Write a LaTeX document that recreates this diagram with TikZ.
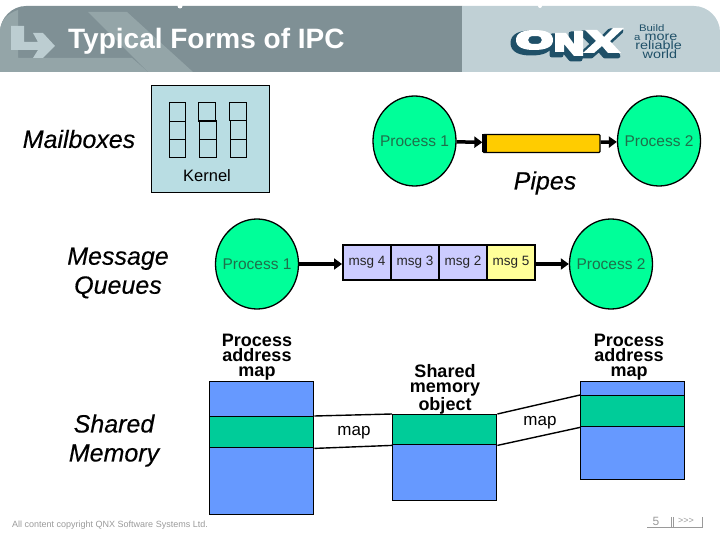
\documentclass[tikz,border=0pt]{standalone}
\usepackage{fontspec}
\setmainfont{Liberation Sans}
\newfontfamily\semifont[FakeBold=0.3]{Liberation Sans}
\definecolor{hdark}{HTML}{7F9095}
\definecolor{hlight}{HTML}{C0D0D5}
\definecolor{hband}{HTML}{94A5A8}
\definecolor{hicon}{HTML}{BCCDD1}
\definecolor{kern}{HTML}{B9DDE3}
\definecolor{proc}{HTML}{00FF99}
\definecolor{proctxt}{HTML}{1F6F4A}
\definecolor{pipefill}{HTML}{FFCC00}
\definecolor{msgfill}{HTML}{CCCCFF}
\definecolor{msgnew}{HTML}{FFFF99}
\definecolor{memblue}{HTML}{6699FF}
\definecolor{memgreen}{HTML}{00CC99}
\definecolor{logo}{HTML}{1F5068}
\definecolor{foot}{HTML}{9A9A9A}
\usetikzlibrary{arrows.meta,shapes.geometric}
\newcommand{\qnxshapes}{
 (516,40) .. controls (516,33) and (523,30) .. (534,30) .. controls (546,30) and (553,33) .. (553,40) .. controls (553,47) and (546,50) .. (534,50) .. controls (523,50) and (516,47) .. (516,40) -- cycle
 (528,40) .. controls (528,37) and (530,36) .. (535,36) .. controls (540,36) and (542,37) .. (542,40) .. controls (542,43) and (540,44) .. (535,44) .. controls (530,44) and (528,43) .. (528,40) -- cycle
 (555,33) -- (566,33) -- (574,44) -- (574,31) -- (583,31) -- (583,56) -- (574,56) -- (564,44) -- (564,52) -- (555,52) -- cycle
 (585,30) -- (597,30) -- (604,37) -- (613,28) -- (624,28) -- (610,41) -- (621,53) -- (608,53) -- (602,46) -- (594,53) -- (583,53) -- (596,41) -- cycle}
\tikzset{
 x=1pt,y=-1pt,
 procnode/.style={ellipse,draw=black,line width=1.3pt,fill=proc,minimum width=83pt,minimum height=90pt,inner sep=0pt,text=proctxt,font=\fontsize{15.5}{15.5}\selectfont},
 cell/.style={draw=black,line width=.9pt},
 msgcell/.style={draw=black,line width=2pt,anchor=north west,minimum width=48pt,minimum height=35pt,inner sep=0pt,font=\fontsize{13.5}{13.5}\selectfont,text=black!85},
 big/.style={align=center,font=\fontsize{25}{29}\semifont\itshape\selectfont,text=black},
 boldmap/.style={align=center,font=\fontsize{18}{15.3}\bfseries\selectfont,text=black},
 memrect/.style={draw=black,line width=1.4pt,anchor=north west,inner sep=0pt},
 flow/.style={line width=3.5pt,-{Triangle[length=8pt,width=11pt]}},
 link/.style={line width=1.4pt,draw=black},
}
\begin{document}
\begin{tikzpicture}
\useasboundingbox (0,0) rectangle (720,540);
% header
\fill[hdark] (0,72) -- (0,32) .. controls (0,18) and (12,6) .. (26,6) -- (462,6) -- (462,72) -- cycle;
\fill[hband] (88,12) -- (127,12) -- (193,72) -- (148,72) -- cycle;
\fill[hband] (0,72) -- (0,32) .. controls (0,22) and (6,14) .. (18,10) -- (18,58) -- (132,58) -- (148,72) -- cycle;
\fill[hlight] (462,6) -- (694,6) .. controls (708,6) and (720,18) .. (720,32) -- (720,72) -- (462,72) -- cycle;
\fill[hicon] (11,26) -- (24,26) -- (24,42) -- (38,42) -- (33,33) -- (43,33) -- (55,46) -- (43,58) -- (33,58) -- (38,50) -- (11,50) -- cycle;
\fill[white] (180,6) circle[radius=2.5];
\fill[white] (540,6) circle[radius=2];
\node[anchor=west,text=white,font=\fontsize{28}{28}\bfseries\selectfont,inner sep=0pt] (title) at (68,41) {Typical Forms of IPC};
% logo
\fill[logo,draw=logo,line width=5pt,line join=round,shift={(-3,3)}] \qnxshapes;
\fill[white,even odd rule] \qnxshapes;
\node[anchor=west,align=left,text=logo,inner sep=0pt,xscale=1.2,font=\fontsize{12}{9.2}\selectfont] (lg) at (634,41.5) {\hspace*{4pt}{\fontsize{9.5}{9.2}\selectfont Build}\\{\fontsize{9.5}{9.2}\selectfont a} more\\\hspace*{1pt}reliable\\\hspace*{7pt}world};
% mailboxes
\node[draw=black,line width=.9pt,fill=kern,minimum width=118pt,minimum height=107pt,inner sep=0pt] (kernel) at (210,138.5) {};
\node[font=\fontsize{16.5}{16.5}\selectfont,inner sep=0pt] (kerneltxt) at (207,176) {Kernel};
\node[big] (mail) at (79,139) {Mailboxes};
\foreach \xa/\xb/\ya/\yb in {169/185/139/157,169/185/121/139,169/185/102/121,
 199/216/139/157,199/216/120/139,198/215/102/121,
 230/246/139/157,230/246/120/139,229/246/102/120}
 \draw[cell] (\xa,\ya) rectangle (\xb,\yb);
% pipes
\node[procnode] (p1) at (414.5,141) {\makebox[0pt]{Process 1}};
\node[procnode] (p2) at (659,141) {\makebox[0pt]{Process 2}};
\node[draw=black,line width=1.3pt,fill=pipefill,rounded corners=1pt,minimum width=117pt,minimum height=18pt,inner sep=0pt] (pipe) at (541.5,143.5) {};
\fill[black] (482,134.5) rectangle (487,152.5);
\draw[flow] (p1) -- (pipe);
\draw[flow] (pipe) -- (p2);
\node[big] (pipestxt) at (545,183) {Pipes};
% queue
\node[big] (mq) at (118,273) {Message\\Queues};
\node[procnode] (q1) at (257,264) {\makebox[0pt]{Process 1}};
\node[procnode] (q2) at (611,264) {\makebox[0pt]{Process 2}};
\node[msgcell,fill=msgfill] (m4) at (342,244) {msg 4};
\node[msgcell,fill=msgfill] (m3) at (390,244) {msg 3};
\node[msgcell,fill=msgfill] (m2) at (438,244) {msg 2};
\node[msgcell,fill=msgnew] (m5) at (486,244) {msg 5};
\draw[flow] (q1) -- (q1 -| m4.west);
\draw[flow] (m5.east |- q2) -- (q2);
% shared memory
\node[big] (sm) at (114,440.5) {Shared\\Memory};
\node[boldmap] (pa1) at (257,357) {Process\\address\\map};
\node[boldmap] (pa2) at (629,357) {Process\\address\\map};
\node[boldmap] (so) at (445,389) {Shared\\memory\\object};
\node[memrect,fill=memblue,minimum width=104pt,minimum height=133pt] (a) at (209,381) {};
\node[memrect,fill=memgreen,minimum width=104pt,minimum height=31pt] (ag) at (209,416) {};
\node[memrect,fill=memblue,minimum width=104pt,minimum height=86pt] (b) at (392,414) {};
\node[memrect,fill=memgreen,minimum width=104pt,minimum height=30pt] (bg) at (392,414) {};
\node[memrect,fill=memblue,minimum width=104pt,minimum height=98pt] (c) at (580,381) {};
\node[memrect,fill=memgreen,minimum width=104pt,minimum height=31pt] (cg) at (580,395) {};
\draw[link] (ag.north east) -- (bg.north west);
\draw[link] (ag.south east) -- (bg.south west);
\draw[link] (bg.north east) -- (cg.north west);
\draw[link] (bg.south east) -- (cg.south west);
\node[font=\fontsize{17}{17}\selectfont,inner sep=0pt] (map1) at (354,433) {map};
\node[font=\fontsize{17}{17}\selectfont,inner sep=0pt] (map2) at (540,423) {map};
% footer
\node[anchor=west,inner sep=0pt,text=foot,font=\fontsize{9}{9}\selectfont] (copy) at (12,525) {All content copyright QNX Software Systems Ltd.};
\node[inner sep=0pt,text=foot,font=\fontsize{12}{12}\selectfont] (pg) at (656,521) {5};
\node[inner sep=0pt,text=foot,font=\fontsize{9}{9}\selectfont] (nx) at (686,521) {{>}{>}{>}};
\draw[foot,line width=.8pt] (647,527) -- (702,527) -- (702,517);
\draw[foot,line width=.7pt] (671,517) -- (671,527) (673,517) -- (673,527);
\end{tikzpicture}
\end{document}
